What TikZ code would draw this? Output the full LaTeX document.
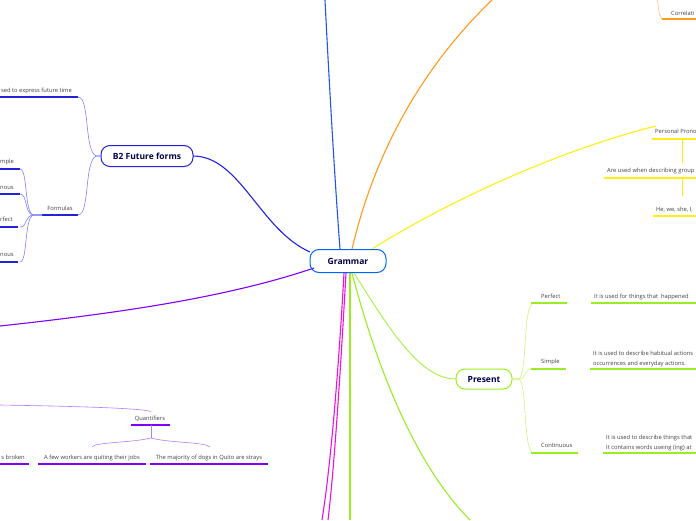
\documentclass[tikz,border=0pt]{standalone}
\usepackage{fontspec}
\setmainfont{Open Sans}
\begin{document}
\begin{tikzpicture}[x=1pt,y=-1pt,
 txt/.style={font=\fontsize{5.8}{7}\selectfont, text=black!75, inner sep=0pt, align=left},
 ul/.style={line width=1.4pt},
 br/.style={line width=0.6pt},
 big/.style={draw, rounded corners=9pt, line width=1pt, font=\bfseries\fontsize{8.5}{9}\selectfont, inner sep=0pt, text=black!70!blue}]
\useasboundingbox (0,0) rectangle (696,520);
\definecolor{fut}{HTML}{2222DD}\definecolor{futl}{HTML}{8080FF}
\definecolor{qua}{HTML}{8000FF}\definecolor{qual}{HTML}{B77BFF}
\definecolor{yel}{HTML}{FFEE11}\definecolor{grn}{HTML}{99EE22}\definecolor{grnl}{HTML}{CCF57A}
\definecolor{org}{HTML}{FF9A1A}\definecolor{mag}{HTML}{EE11DD}\definecolor{trb}{HTML}{2255EE}

% main trunks
\draw[trb,line width=1.1pt] (340,249) .. controls (334,170) and (328,60) .. (325,0);
\draw[org,line width=1.1pt] (352,249) .. controls (380,130) and (440,50) .. (492,0);
\draw[yel,line width=1.1pt] (372,249) .. controls (450,200) and (560,150) .. (656,126);
\draw[fut,line width=1.1pt] (310,252) .. controls (260,230) and (240,156) .. (193,156);
\draw[qua,line width=1.1pt] (314,268) .. controls (220,300) and (100,315) .. (0,326);
\draw[mag,line width=1.1pt] (344,273) .. controls (338,380) and (330,470) .. (322,520);
\draw[mag,line width=1.1pt] (346,273) .. controls (340,380) and (334,470) .. (328,520);
\draw[grn,line width=1.1pt] (350,273) -- (350,520);
\draw[grn,line width=1.1pt] (352,273) .. controls (380,380) and (420,470) .. (470,520);
\draw[grn!80,line width=1pt] (354,273) .. controls (390,330) and (420,379) .. (456,379);

% Grammar
\node[big, draw=blue!60!cyan, minimum width=76pt, minimum height=23pt] (g) at (348,261) {Grammar};

% orange branch
\node[txt,anchor=base west] (cor) at (671,15) {Correlati};
\draw[org,ul] (662,19) -- (696,19);
\draw[org!60,br] (662,19) .. controls (658,15) and (659,5) .. (657,0);

% yellow branch
\node[txt,anchor=base west] (pp) at (655,133) {Personal Prono};
\draw[yel,ul] (652,139) -- (696,139);
\draw[yel,br] (682,139) -- (682,163);
\node[txt,anchor=base west] (au) at (607,172) {Are used when describing group};
\draw[yel,ul] (604,178) -- (696,178);
\draw[yel,br] (682,178) -- (682,196);
\node[txt,anchor=base west] (he) at (656,211) {He, we, she, I,};
\draw[yel,ul] (653,216) -- (696,216);

% future forms
\node[big, draw=fut, minimum width=92pt, minimum height=21pt] (b2) at (147,156) {B2 Future forms};
\node[txt,anchor=base east] (t1) at (72,92) {sed to express future time};
\draw[fut,ul] (0,97) -- (78,97);
\draw[futl,br] (101,156) -- (96,156) .. controls (84,150) and (90,97) .. (78,97);
\node[txt,anchor=base] (fo) at (60,210) {Formulas};
\draw[fut,ul] (42,215) -- (78,215);
\draw[futl,br] (101,156) -- (96,156) .. controls (84,162) and (90,215) .. (78,215);
\node[txt,anchor=base west] at (0,163) {mple};
\draw[fut,ul] (0,169) -- (20,169);
\node[txt,anchor=base west] at (0,189) {nous};
\draw[fut,ul] (0,194) -- (20,194);
\node[txt,anchor=base west] at (0,221) {rfect};
\draw[fut,ul] (0,227) -- (18,227);
\node[txt,anchor=base west] at (0,256) {nous};
\draw[fut,ul] (0,262) -- (18,262);
\foreach \y in {169,194,227,262}{
 \draw[futl,br] (42,215) -- (34,215) .. controls (24,215) and (28,\y) .. (20,\y);}

% quantifiers
\node[txt,anchor=base] (qn) at (150,420) {Quantifiers};
\draw[qua,ul] (131,425) -- (170,425);
\draw[qual,br] (0,405) .. controls (60,406) and (150,408) .. (151,412);
\draw[qual,br] (151,425) -- (151,438);
\draw[qual,br] (151,438) .. controls (130,443) and (95,442) .. (92,447);
\draw[qual,br] (151,438) .. controls (170,443) and (205,442) .. (210,447);
\node[txt,anchor=base] at (92,459) {A few workers are quiting their jobs};
\draw[qua,ul] (38,464) -- (146,464);
\node[txt,anchor=base] at (209,459) {The majority of dogs in Quito are strays};
\draw[qua,ul] (150,464) -- (268,464);
\node[txt,anchor=base east] at (25,459) {s broken};
\draw[qua,ul] (0,464) -- (29,464);

% present
\node[big, draw=grn, minimum width=56pt, minimum height=20pt] (pr) at (484,379) {Present};
\foreach \y in {303,369,453}{
 \draw[grnl,br] (512,379) -- (518,379) .. controls (528,379) and (522,\y) .. (534,\y);}
\node[txt,anchor=base west] at (541,298) {Perfect};
\draw[grn,ul] (531,303) -- (567,303);
\node[txt,anchor=base west] at (594,298) {It is used for things that\ \ happened};
\draw[grn,ul] (591,303) -- (696,303);
\node[txt,anchor=base west] at (541,363) {Simple};
\draw[grn,ul] (531,369) -- (566,369);
\node[txt,anchor=base west] at (593,355) {It is used to describe habitual actions};
\node[txt,anchor=base west] at (593,365) {occurrences and everyday actions.};
\draw[grn,ul] (590,369) -- (696,369);
\node[txt,anchor=base west] at (541,447) {Continuous};
\draw[grn,ul] (531,453) -- (578,453);
\node[txt,anchor=base west] at (606,439) {It is used to describe things that};
\node[txt,anchor=base west] at (606,449) {It contains words useing (ing) at};
\draw[grn,ul] (603,453) -- (696,453);
\end{tikzpicture}
\end{document}
